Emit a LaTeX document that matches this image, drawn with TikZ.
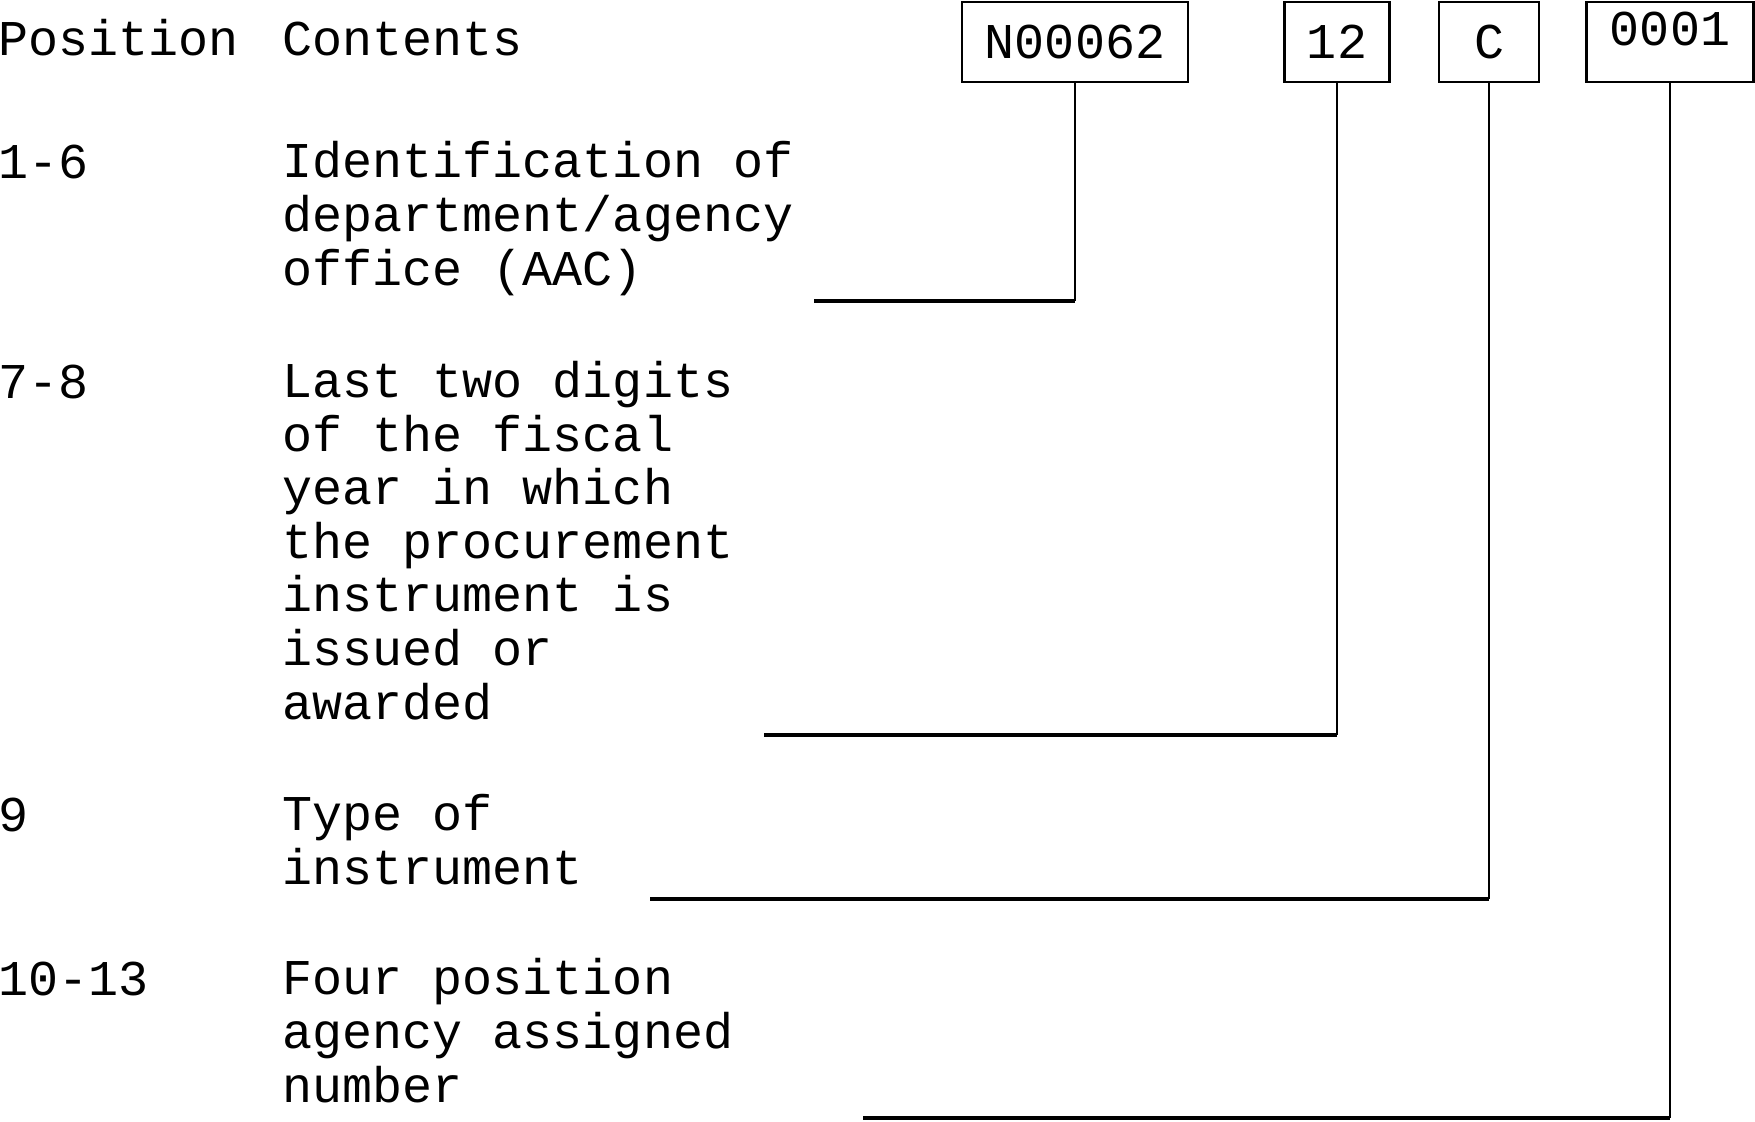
\documentclass[tikz,border=0pt]{standalone}
\usepackage{fontspec}
\setmonofont{Liberation Mono}
\usetikzlibrary{positioning,calc}
\newcommand{\piidFont}{\ttfamily\fontsize{14.23}{15.22}\selectfont}
\tikzset{
    piidBox/.style={
        rectangle,
        draw,
        line width=0.7pt,
        minimum height=0.8cm,
        inner sep=0pt,
        font=\piidFont
    },
    % base of a multi-line node is its last line
    piidText/.style={
        anchor=base west,
        inner sep=0pt,
        align=left,
        font=\piidFont
    },
    % Leaders
    piidDown/.style={line width=0.55pt},
    piidAcross/.style={line width=1pt}
}

\begin{document}
\begin{tikzpicture}[x=0.01cm, y=-0.01cm]
\useasboundingbox (0,0) rectangle (1755,1121);

% header
\node[piidText] (poshead) at (-2,55) {Position};
\node[piidText] (conthead) at (282,55) {Contents};

% number boxes
\node[piidBox, minimum width=2.26cm] (aacbox) at (1075,42) {N00062};
\node[piidBox, minimum width=1.05cm] (fybox) at (1337,42) {12};
\node[piidBox, minimum width=1.0cm] (typebox) at (1489,42) {C};
\node[piidBox, minimum width=1.67cm, text depth=0.26cm] (numbox) at (1670,42) {0001};

% rows
\node[piidText] (aacpos) at (-2,178) {1-6};
\node[piidText] (aactext) at (282,285) {Identification of\\department/agency\\office (AAC)};
\node[piidText] (fypos) at (-2,398) {7-8};
\node[piidText] (fytext) at (282,719) {Last two digits\\of the fiscal\\year in which\\the procurement\\instrument is\\issued or\\awarded};
\node[piidText] (typepos) at (-2,831) {9};
\node[piidText] (typetext) at (282,884) {Type of\\instrument};
\node[piidText] (numpos) at (-2,995) {10-13};
\node[piidText] (numtext) at (282,1102) {Four position\\agency assigned\\number};

% leaders
\coordinate (aacend) at (814,301);
\coordinate (fyend) at (764,735);
\coordinate (typeend) at (650,899);
\coordinate (numend) at (863,1118);
\foreach \b/\e in {aacbox/aacend, fybox/fyend, typebox/typeend, numbox/numend} {
    \draw[piidDown] (\b.south) -- (\b.south |- \e);
    \draw[piidAcross] (\e) -- (\b.south |- \e);
}
\end{tikzpicture}
\end{document}
